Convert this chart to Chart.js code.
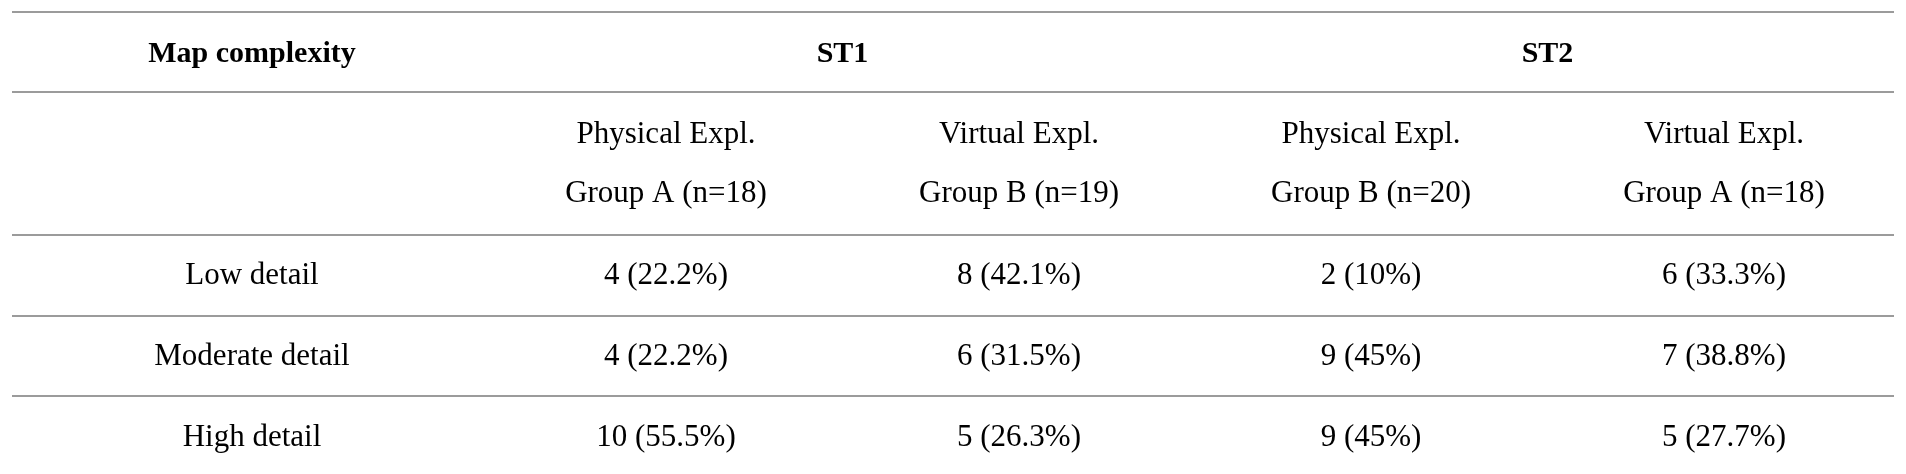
<!DOCTYPE html>
<html><head><meta charset="utf-8">
<script src="https://cdn.jsdelivr.net/npm/chart.js@4"></script>
<style>html,body{margin:0;padding:0;background:#fff}#w{width:1906px;height:474px}</style>
</head><body><div id="w"><canvas id="c"></canvas></div>
<script>
const headerTitle = "Map complexity";
const groupHeaders = ["ST1", "ST2"];
const subHeaderLine1 = ["Physical Expl.", "Virtual Expl.", "Physical Expl.", "Virtual Expl."];
const subHeaderLine2 = ["Group A (n=18)", "Group B (n=19)", "Group B (n=20)", "Group A (n=18)"];
const categories = ["Low detail", "Moderate detail", "High detail"];
const counts = [[4, 8, 2, 6], [4, 6, 9, 7], [10, 5, 9, 5]];
const percents = [["22.2%", "42.1%", "10%", "33.3%"], ["22.2%", "31.5%", "45%", "38.8%"], ["55.5%", "26.3%", "45%", "27.7%"]];

const tablePlugin = {
  id: 'table',
  afterDraw(chart) {
    const ctx = chart.ctx;
    const W = chart.width;
    const x0 = 12, x1 = W - 12;
    const colX = [252, 666, 1019, 1371, 1724];
    const lines = [12, 92, 235, 316, 396];
    ctx.save();
    ctx.strokeStyle = '#7a7a7a'; ctx.lineWidth = 1.6;
    lines.forEach(y => { ctx.beginPath(); ctx.moveTo(x0, y); ctx.lineTo(x1, y); ctx.stroke(); });
    ctx.fillStyle = '#000'; ctx.textAlign = 'center'; ctx.textBaseline = 'middle';
    ctx.font = 'bold 30px "Liberation Serif"';
    ctx.fillText(headerTitle, colX[0], 54);
    ctx.fillText(groupHeaders[0], (colX[1] + colX[2]) / 2, 54);
    ctx.fillText(groupHeaders[1], (colX[3] + colX[4]) / 2, 54);
    ctx.font = '31px "Liberation Serif"';
    subHeaderLine1.forEach((t, i) => ctx.fillText(t, colX[i + 1], 135));
    subHeaderLine2.forEach((t, i) => ctx.fillText(t, colX[i + 1], 194));
    categories.forEach((c, r) => {
      const y = 276 + r * 81;
      ctx.fillText(c, colX[0], y);
      counts[r].forEach((v, i) => ctx.fillText(v + " (" + percents[r][i] + ")", colX[i + 1], y));
    });
    ctx.restore();
  }
};

new Chart(document.getElementById('c'), {
  type: 'bar',
  data: { labels: categories, datasets: [{ data: counts.map(r => r[0]), backgroundColor: 'rgba(0,0,0,0)' }] },
  options: {
    responsive: true, maintainAspectRatio: false, animation: false,
    layout: { padding: 0 },
    plugins: { legend: { display: false }, tooltip: { enabled: false } },
    scales: { x: { display: false }, y: { display: false } }
  },
  plugins: [tablePlugin]
});
</script></body></html>
